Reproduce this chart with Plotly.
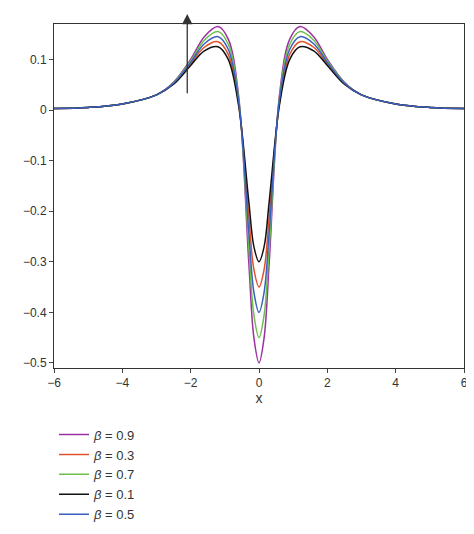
import plotly.graph_objects as go

x_half = [-6, -5, -4, -3, -2.5, -2, -1.6, -1.2, -0.9, -0.6, -0.3, -0.15, 0]
b09 = [0.003, 0.005, 0.012, 0.03, 0.055, 0.100, 0.145, 0.165, 0.140, 0.030, -0.30, -0.45, -0.50]
b07 = [0.003, 0.005, 0.012, 0.03, 0.054, 0.097, 0.138, 0.155, 0.130, 0.025, -0.27, -0.405, -0.45]
b05 = [0.003, 0.005, 0.012, 0.03, 0.053, 0.094, 0.131, 0.145, 0.120, 0.020, -0.24, -0.36, -0.40]
b03 = [0.003, 0.005, 0.012, 0.03, 0.052, 0.091, 0.124, 0.135, 0.110, 0.015, -0.21, -0.315, -0.35]
b01 = [0.003, 0.005, 0.012, 0.03, 0.051, 0.088, 0.117, 0.125, 0.100, 0.010, -0.18, -0.27, -0.30]
y_ticks = [-0.5, -0.4, -0.3, -0.2, -0.1, 0, 0.1]
y_labels = ["−0.5", "−0.4", "−0.3", "−0.2", "−0.1", "0", "0.1"]
x_ticks = [-6, -4, -2, 0, 2, 4, 6]
x_labels = ["−6", "−4", "−2", "0", "2", "4", "6"]

def full(xs, ys):
    return xs + [-v for v in xs[-2::-1]], ys + ys[-2::-1]

series = [("0.9", b09, "#9b30a0"), ("0.3", b03, "#e0502a"), ("0.7", b07, "#6dbf4b"),
          ("0.1", b01, "#111111"), ("0.5", b05, "#3a5fbf")]

fig = go.Figure()
for name, ys, c in series:
    xx, yy = full(x_half, ys)
    fig.add_trace(go.Scatter(x=xx, y=yy, mode="lines", line=dict(color=c, width=1.5, shape="spline"),
                             name=f"<i>β</i> = {name}"))

fig.add_annotation(x=-2.1, y=0.19, ax=-2.1, ay=0.03, xref="x", yref="y", axref="x", ayref="y",
                   showarrow=True, arrowhead=2, arrowsize=1.6, arrowwidth=1.3, arrowcolor="#333", text="")

ax = dict(showline=True, linecolor="#333", mirror=True, ticks="outside", ticklen=4,
          showgrid=False, zeroline=False, tickfont=dict(size=12, color="#333"))
fig.update_layout(
    width=474, height=534, plot_bgcolor="white", paper_bgcolor="white",
    margin=dict(l=46, r=18, t=16, b=140),
    font=dict(family="Liberation Sans", color="#333"),
    xaxis=dict(ax, range=[-6, 6], tickvals=x_ticks, ticktext=x_labels, title=dict(text="x", standoff=2)),
    yaxis=dict(ax, range=[-0.51, 0.17], tickvals=y_ticks, ticktext=y_labels),
    legend=dict(orientation="h", x=0.0, y=-0.15, xanchor="left", yanchor="top",
                entrywidth=190, entrywidthmode="pixels", font=dict(size=13)),
)
fig.write_html("out.html")
